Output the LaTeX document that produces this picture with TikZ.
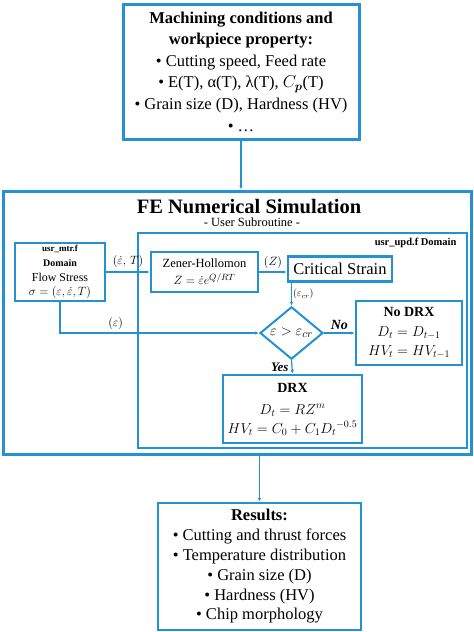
\documentclass[tikz,border=0pt]{standalone}
\usepackage{fontspec}
\setmainfont{Liberation Serif}
\usepackage{amsmath}
\usetikzlibrary{arrows.meta,shapes.geometric}
\definecolor{flowblue}{RGB}{35,145,212}
\begin{document}
\begin{tikzpicture}[x=1pt,y=-1pt,
  box/.style={draw=flowblue,line width=2.5pt,align=center,inner sep=1pt},
  link/.style={flowblue,line width=1.2pt,-{Latex[length=4pt,width=3.5pt]}},
  lbl/.style={text=black,font=\fontsize{12}{14}\selectfont,inner sep=1pt}]
\useasboundingbox (0,0) rectangle (474,632);
% input data
\node[box,line width=3pt,minimum width=236pt,minimum height=135pt,font=\fontsize{16.5}{21.6}\selectfont] (props) at (241,71.5)
  {\textbf{Machining conditions and}\\\textbf{workpiece property:}\\• Cutting speed, Feed rate\\• E(T), α(T), λ(T), $C_{\boldsymbol{p}}$(T)\\• Grain size (D), Hardness (HV)\\• …};
% FE model
\node[box,line width=3pt,minimum width=468pt,minimum height=263pt] (sim) at (237,322.5) {};
\node[font=\fontsize{20.5}{24}\bfseries\selectfont] (title) at (249,207) {FE Numerical Simulation};
\node[font=\fontsize{12.5}{14}\selectfont] (sub) at (252,222.5) {- User Subroutine -};
\node[box,minimum width=329pt,minimum height=215pt] (upd) at (302.5,340.5) {};
\node[anchor=east,font=\fontsize{10.5}{12}\bfseries\selectfont] (updlbl) at (460,243) {usr\_upd.f Domain};
\node[box,minimum width=90pt,minimum height=58pt,font=\fontsize{12}{14.8}\selectfont] (mtr) at (60,272)
  {{\fontsize{9}{11}\bfseries\selectfont usr\_mtr.f}\\{\fontsize{10}{12}\bfseries\selectfont Domain}\\Flow Stress\\$\sigma = (\varepsilon, \dot{\varepsilon}, T)$};
\node[box,minimum width=107pt,minimum height=40pt,font=\fontsize{12.5}{17}\selectfont] (zh) at (204.5,272)
  {Zener-Hollomon\\$Z = \dot{\varepsilon}e^{Q/RT}$};
\node[box,minimum width=104pt,minimum height=25pt,font=\fontsize{16.5}{18}\selectfont] (cs) at (340,269) {Critical Strain};
\node[diamond,draw=flowblue,line width=2pt,minimum width=63pt,minimum height=50pt,inner sep=0pt,font=\fontsize{15}{16}\selectfont] (dia) at (291.5,333)
  {$\varepsilon > \varepsilon_{cr}$};
\node[box,minimum width=106pt,minimum height=64pt,font=\fontsize{14}{19.5}\selectfont] (nodrx) at (409,333)
  {\textbf{No DRX}\\$D_t = D_{t-1}$\\$HV_t = HV_{t-1}$};
\node[box,minimum width=139pt,minimum height=68pt,font=\fontsize{14}{19}\selectfont] (drx) at (292.5,409)
  {\textbf{DRX}\\[3pt]$D_t = RZ^m$\\$HV_t = C_0 + C_1 {D_t}^{-0.5}$};
% output data
\node[box,minimum width=203pt,minimum height=127pt,font=\fontsize{16.5}{19.8}\selectfont] (results) at (259.5,566.5)
  {\textbf{Results:}\\• Cutting and thrust forces\\• Temperature distribution\\• Grain size (D)\\• Hardness (HV)\\• Chip morphology};
% links
\draw[link] (props.south) -- (props.south |- sim.north);
\draw[link] (sim.south -| results.north) -- (results.north);
\draw[link] (mtr.east) -- node[lbl,above=3pt]{$(\dot{\varepsilon},\,T)$} (zh.west);
\draw[link] (zh.east) -- node[lbl,above=2pt]{$(Z)$} (zh.east -| cs.west);
\draw[link] (dia.north |- cs.south) -- node[lbl,right,font=\fontsize{10}{12}\selectfont]{$(\varepsilon_{cr})$} (dia.north);
\draw[link] (mtr.south) |- node[lbl,above=2pt,pos=0.64]{$(\varepsilon)$} (dia.west);
\draw[link] (dia.east) -- node[lbl,above=2pt,font=\fontsize{14}{16}\bfseries\itshape\selectfont]{No} (nodrx.west);
\draw[link] (dia.south) -- node[lbl,left=2pt,font=\fontsize{13}{16}\bfseries\itshape\selectfont]{Yes} (drx.north);
\end{tikzpicture}
\end{document}
